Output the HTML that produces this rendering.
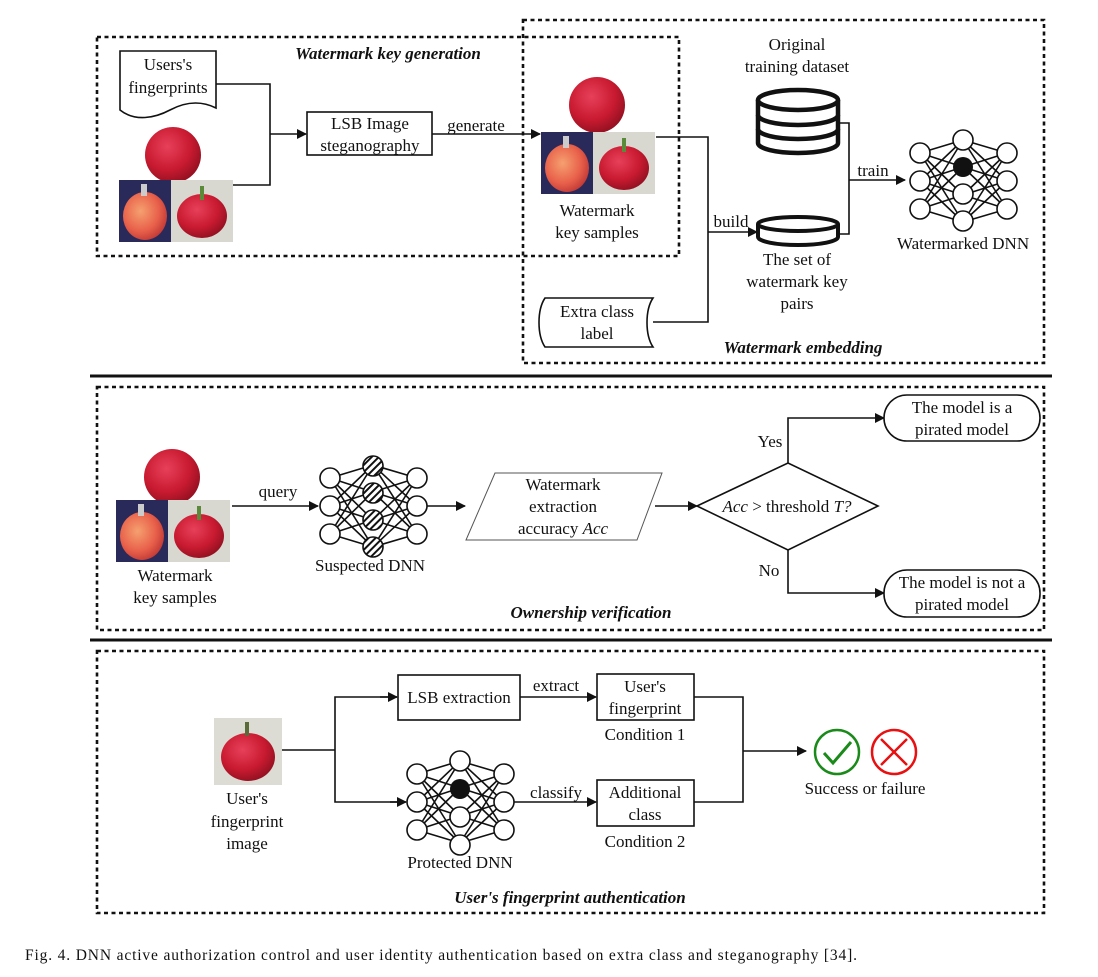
<!DOCTYPE html>
<html><head><meta charset="utf-8"><style>
html,body{margin:0;padding:0;background:#fff;}
svg{display:block;}
text{font-family:"Liberation Serif",serif;font-size:17px;fill:#111;}
.t{text-anchor:middle;}
.bi{font-weight:bold;font-style:italic;}
.d{fill:none;stroke:#111;stroke-width:2.6;stroke-dasharray:4 3.5;}
.l{fill:none;stroke:#111;stroke-width:1.6;}
.b{fill:#fff;stroke:#111;stroke-width:1.6;}
</style></head><body>
<svg width="1098" height="977" viewBox="0 0 1098 977" xmlns="http://www.w3.org/2000/svg">
<defs>
<marker id="a" markerWidth="10" markerHeight="10" refX="9" refY="5" orient="auto" markerUnits="userSpaceOnUse"><path d="M0 0L10 5L0 10Z" fill="#111"/></marker>
<pattern id="h" width="5" height="5" patternUnits="userSpaceOnUse" patternTransform="rotate(45)"><rect width="5" height="5" fill="#fff"/><rect width="2" height="5" fill="#111"/></pattern>
<radialGradient id="ap" cx="0.4" cy="0.35" r="0.7"><stop offset="0" stop-color="#e8405a"/><stop offset="0.6" stop-color="#c81a30"/><stop offset="1" stop-color="#8e1020"/></radialGradient>
<radialGradient id="ap2" cx="0.4" cy="0.4" r="0.7"><stop offset="0" stop-color="#f5a070"/><stop offset="0.6" stop-color="#e8604a"/><stop offset="1" stop-color="#b83030"/></radialGradient>
<g id="net">
<path class="l" stroke-width="1.3" d="M0-28L43-41M0-28L43-14M0-28L43 14M0-28L43 41M0 0L43-41M0 0L43-14M0 0L43 14M0 0L43 41M0 28L43-41M0 28L43-14M0 28L43 14M0 28L43 41M87-28L43-41M87-28L43-14M87-28L43 14M87-28L43 41M87 0L43-41M87 0L43-14M87 0L43 14M87 0L43 41M87 28L43-41M87 28L43-14M87 28L43 14M87 28L43 41"/>
<circle class="b" cx="0" cy="-28" r="10"/><circle class="b" cx="0" cy="0" r="10"/><circle class="b" cx="0" cy="28" r="10"/>
<circle class="b" cx="87" cy="-28" r="10"/><circle class="b" cx="87" cy="0" r="10"/><circle class="b" cx="87" cy="28" r="10"/>
</g>
<g id="apple"><circle cx="0" cy="0" r="28" fill="url(#ap)"/></g>
<g id="pair">
<rect x="0" y="0" width="52" height="62" fill="#2a2a5a"/><ellipse cx="26" cy="36" rx="22" ry="24" fill="url(#ap2)"/><rect x="22" y="4" width="6" height="12" fill="#ccc"/>
<rect x="52" y="0" width="62" height="62" fill="#d8d8d0"/><ellipse cx="83" cy="36" rx="25" ry="22" fill="url(#ap)"/><rect x="81" y="6" width="4" height="14" fill="#5a8a3a"/>
</g>
</defs>

<!-- dashed boxes -->
<rect class="d" x="523" y="20" width="521" height="343"/>
<rect class="d" x="97" y="37" width="582" height="219"/>
<line x1="90" y1="376" x2="1052" y2="376" stroke="#111" stroke-width="3"/>
<line x1="90" y1="640" x2="1052" y2="640" stroke="#111" stroke-width="3"/>
<rect class="d" x="97" y="387" width="947" height="243"/>
<rect class="d" x="97" y="651" width="947" height="262"/>

<!-- top-left -->
<text class="t bi" x="388" y="59">Watermark key generation</text>
<path class="b" d="M120 51H216V108C200 100 185 102 170 110C155 118 135 122 120 110Z"/>
<text class="t" x="168" y="70">Users's</text>
<text class="t" x="168" y="93">fingerprints</text>
<use href="#apple" x="173" y="155"/>
<use href="#pair" x="119" y="180"/>
<path class="l" d="M216 84H270V185H233"/>
<path class="l" d="M270 134H306" marker-end="url(#a)"/>
<rect class="b" x="307" y="112" width="125" height="43"/>
<text class="t" x="370" y="129">LSB Image</text>
<text class="t" x="370" y="151">steganography</text>
<path class="l" d="M432 134H540" marker-end="url(#a)"/>
<text class="t" x="476" y="131">generate</text>
<use href="#apple" x="597" y="105"/>
<use href="#pair" x="541" y="132"/>
<text class="t" x="597" y="216">Watermark</text>
<text class="t" x="597" y="238">key samples</text>
<path class="l" d="M656 137H708V322H653"/>
<path class="l" d="M708 232H757" marker-end="url(#a)"/>
<text class="t" x="731" y="227">build</text>
<path class="b" d="M545 298H653C645 310 645 335 653 347H545C537 335 537 310 545 298Z"/>
<text class="t" x="597" y="317">Extra class</text>
<text class="t" x="597" y="339">label</text>

<!-- embedding -->
<text class="t" x="797" y="50">Original</text>
<text class="t" x="797" y="72">training dataset</text>
<g fill="#fff" stroke="#111" stroke-width="4.5">
<path d="M758 100V143A40 10 0 0 0 838 143V100"/>
<ellipse cx="798" cy="100" rx="40" ry="10"/>
<path d="M758 115A40 10 0 0 0 838 115M758 129A40 10 0 0 0 838 129" fill="none"/>
</g>
<path class="l" d="M839 123H849V234H838"/>
<path class="l" d="M849 180H905" marker-end="url(#a)"/>
<text class="t" x="873" y="176">train</text>
<g fill="#fff" stroke="#111" stroke-width="4">
<path d="M758 224V237A40 8 0 0 0 838 237V224"/>
<ellipse cx="798" cy="224" rx="40" ry="7"/>
</g>
<text class="t" x="797" y="265">The set of</text>
<text class="t" x="797" y="287">watermark key</text>
<text class="t" x="797" y="309">pairs</text>
<use href="#net" x="920" y="181"/>
<circle class="b" cx="963" cy="140" r="10"/><circle cx="963" cy="167" r="10" fill="#111"/><circle class="b" cx="963" cy="194" r="10"/><circle class="b" cx="963" cy="221" r="10"/>
<text class="t" x="963" y="249">Watermarked DNN</text>
<text class="t bi" x="803" y="353">Watermark embedding</text>

<!-- ownership verification -->
<use href="#apple" x="172" y="477"/>
<use href="#pair" x="116" y="500"/>
<text class="t" x="175" y="581">Watermark</text>
<text class="t" x="175" y="603">key samples</text>
<path class="l" d="M232 506H318" marker-end="url(#a)"/>
<text class="t" x="278" y="497">query</text>
<use href="#net" x="330" y="506"/>
<g fill="url(#h)" stroke="#111" stroke-width="1.6">
<circle cx="373" cy="466" r="10"/><circle cx="373" cy="493" r="10"/><circle cx="373" cy="520" r="10"/><circle cx="373" cy="547" r="10"/></g>
<text class="t" x="370" y="571">Suspected DNN</text>
<path class="l" d="M427 506H465" marker-end="url(#a)"/>
<path fill="#fff" stroke="#555" stroke-width="1" d="M495 473H662L637 540H466Z"/>
<text class="t" x="563" y="490">Watermark</text>
<text class="t" x="563" y="512">extraction</text>
<text class="t" x="563" y="534">accuracy <tspan font-style="italic">Acc</tspan></text>
<path class="l" d="M655 506H697" marker-end="url(#a)"/>
<path class="b" d="M697 506L788 463L878 506L788 550Z"/>
<text class="t" x="787" y="512"><tspan font-style="italic">Acc</tspan> &gt; threshold <tspan font-style="italic">T?</tspan></text>
<path class="l" d="M788 463V418H884" marker-end="url(#a)"/>
<path class="l" d="M788 550V593H884" marker-end="url(#a)"/>
<text class="t" x="770" y="447">Yes</text>
<text class="t" x="769" y="576">No</text>
<rect class="b" x="884" y="395" width="156" height="46" rx="23"/>
<text class="t" x="962" y="413">The model is a</text>
<text class="t" x="962" y="435">pirated model</text>
<rect class="b" x="884" y="570" width="156" height="47" rx="23"/>
<text class="t" x="962" y="588">The model is not a</text>
<text class="t" x="962" y="610">pirated model</text>
<text class="t bi" x="591" y="618">Ownership verification</text>

<!-- authentication -->
<rect x="214" y="718" width="68" height="67" fill="#dcdcd4"/>
<ellipse cx="248" cy="757" rx="27" ry="24" fill="url(#ap)"/>
<rect x="245" y="722" width="4" height="14" fill="#5a6a3a"/>
<text class="t" x="247" y="804">User's</text>
<text class="t" x="247" y="827">fingerprint</text>
<text class="t" x="247" y="849">image</text>
<path class="l" d="M282 750H335V697H397M335 750V802H405" />
<path class="l" d="M380 697H397" marker-end="url(#a)"/>
<path class="l" d="M390 802H406" marker-end="url(#a)"/>
<rect class="b" x="398" y="675" width="122" height="45"/>
<text class="t" x="459" y="703">LSB extraction</text>
<path class="l" d="M520 697H596" marker-end="url(#a)"/>
<text class="t" x="556" y="691">extract</text>
<rect class="b" x="597" y="674" width="97" height="46"/>
<text class="t" x="645" y="692">User's</text>
<text class="t" x="645" y="714">fingerprint</text>
<text class="t" x="645" y="740">Condition 1</text>
<use href="#net" x="417" y="802"/>
<circle class="b" cx="460" cy="761" r="10"/><circle cx="460" cy="789" r="10" fill="#111"/><circle class="b" cx="460" cy="817" r="10"/><circle class="b" cx="460" cy="845" r="10"/>
<text class="t" x="460" y="868">Protected DNN</text>
<path class="l" d="M514 802H596" marker-end="url(#a)"/>
<text class="t" x="556" y="798">classify</text>
<rect class="b" x="597" y="780" width="97" height="46"/>
<text class="t" x="645" y="798">Additional</text>
<text class="t" x="645" y="820">class</text>
<text class="t" x="645" y="847">Condition 2</text>
<path class="l" d="M694 697H743V802H694M743 751H806" marker-end="url(#a)"/>
<circle cx="837" cy="752" r="22" fill="none" stroke="#1a8a1a" stroke-width="2.5"/>
<path d="M824 753L833 763L851 742" fill="none" stroke="#1a8a1a" stroke-width="3"/>
<circle cx="894" cy="752" r="22" fill="none" stroke="#e81010" stroke-width="2.5"/>
<path d="M881 739L907 765M907 739L881 765" fill="none" stroke="#e81010" stroke-width="2.5"/>
<text class="t" x="865" y="794">Success or failure</text>
<text class="t bi" x="570" y="903">User's fingerprint authentication</text>

<text x="25" y="960" style="font-size:15.5px" textLength="832" lengthAdjust="spacing">Fig. 4.  DNN active authorization control and user identity authentication based on extra class and steganography [34].</text>
</svg>
</body></html>
